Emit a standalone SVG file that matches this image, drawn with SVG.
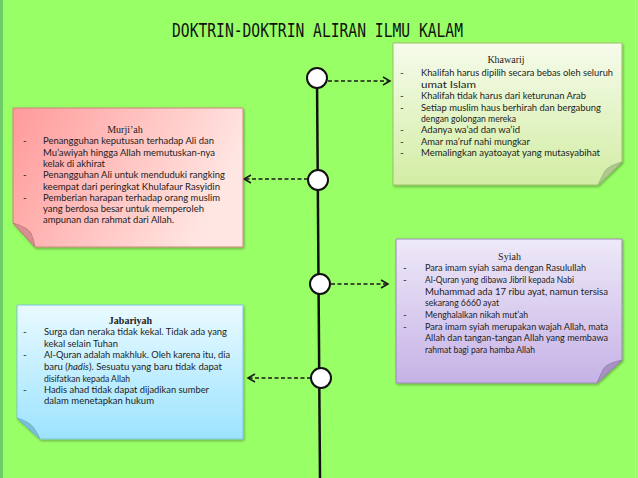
<svg xmlns="http://www.w3.org/2000/svg" width="638" height="478" viewBox="0 0 638 478">
<style>
.t{font-family:Lato,"Open Sans","Liberation Sans",sans-serif;font-size:10px;fill:#1c1c1c}
.h{font-family:"Liberation Serif",serif;font-size:10px;fill:#1c1c1c;text-anchor:middle}
.c{fill:#fff;stroke:#111;stroke-width:2}
.a{fill:none;stroke:#1a1a1a;stroke-width:1.5;stroke-dasharray:4 2.5}
</style>
<defs>
<linearGradient id="gK" x1="0" y1="0" x2="0" y2="1"><stop offset="0" stop-color="#F6FBEB"/><stop offset="1" stop-color="#D2EDA4"/></linearGradient>
<linearGradient id="gM" x1="0" y1="0" x2="1" y2="0.3"><stop offset="0" stop-color="#FF9A9A"/><stop offset="1" stop-color="#FFE6E2"/></linearGradient>
<linearGradient id="gS" x1="0" y1="0" x2="0" y2="1"><stop offset="0" stop-color="#EEE9F8"/><stop offset="1" stop-color="#C6B2E6"/></linearGradient>
<linearGradient id="gJ" x1="0" y1="0" x2="0" y2="1"><stop offset="0" stop-color="#E9FAFF"/><stop offset="1" stop-color="#9CE3FF"/></linearGradient>
<filter id="sh" x="-5%" y="-5%" width="112%" height="115%"><feDropShadow dx="1" dy="1.5" stdDeviation="1" flood-color="#000" flood-opacity="0.3"/></filter>
<marker id="ah" markerWidth="10" markerHeight="10" refX="8" refY="5" orient="auto" markerUnits="userSpaceOnUse"><path d="M1,1 L8,5 L1,9" fill="none" stroke="#1a1a1a" stroke-width="1.5"/></marker>
</defs>
<rect width="638" height="478" fill="#99FF66"/>
<rect x="0" y="0" width="3" height="478" fill="#6FCB66"/>
<line x1="635.5" y1="0" x2="635.5" y2="478" stroke="#B8FF90" stroke-width="1"/>
<text x="172" y="37" textLength="291" lengthAdjust="spacingAndGlyphs" style="font-family:'DejaVu Sans Mono','Liberation Mono',monospace;font-size:20px;fill:#111">DOKTRIN-DOKTRIN ALIRAN ILMU KALAM</text>

<g id="connectors">
<path d="M317,78 L320,478" stroke="#111" stroke-width="2.5" fill="none"/>
<line class="a" x1="328" y1="81" x2="390" y2="81" marker-end="url(#ah)"/>
<line class="a" x1="308" y1="179" x2="244" y2="179" marker-end="url(#ah)"/>
<line class="a" x1="331" y1="284" x2="388" y2="284" marker-end="url(#ah)"/>
<line class="a" x1="311" y1="378" x2="248" y2="378" marker-end="url(#ah)"/>
</g>
<g id="dots">
<circle class="c" cx="317" cy="78" r="10"/>
<circle class="c" cx="318" cy="180" r="10"/>
<circle class="c" cx="320" cy="284" r="10"/>
<circle class="c" cx="321" cy="378" r="10"/>
</g>

<g id="khawarij">
<path d="M393,43 H622 V162 L598,185 H393 Z" fill="url(#gK)" stroke="#9CC06A" stroke-width="1" filter="url(#sh)"/>
<path d="M622,162 Q608,166 605,171 Q601,178 598,185 Z" fill="#AFC890" stroke="#94AE74" stroke-width="0.7"/>
<text class="h" x="506" y="63">Khawarij</text>
<g class="t">
<text x="400" y="76">-</text><text x="421" y="76" textLength="192" lengthAdjust="spacingAndGlyphs">Khalifah harus dipilih secara bebas oleh seluruh</text>
<text x="421" y="87.5" textLength="55" lengthAdjust="spacingAndGlyphs">umat Islam</text>
<text x="400" y="98.5">-</text><text x="421" y="98.5" textLength="165" lengthAdjust="spacingAndGlyphs">Khalifah tidak harus dari keturunan Arab</text>
<text x="400" y="110.5">-</text><text x="421" y="110.5" textLength="180" lengthAdjust="spacingAndGlyphs">Setiap muslim haus berhirah dan bergabung</text>
<text x="421" y="121.5" textLength="95" lengthAdjust="spacingAndGlyphs">dengan golongan mereka</text>
<text x="400" y="133">-</text><text x="421" y="133" textLength="99" lengthAdjust="spacingAndGlyphs">Adanya wa’ad dan wa’id</text>
<text x="400" y="144.5">-</text><text x="421" y="144.5" textLength="109" lengthAdjust="spacingAndGlyphs">Amar ma’ruf nahi mungkar</text>
<text x="400" y="156">-</text><text x="421" y="156" textLength="179" lengthAdjust="spacingAndGlyphs">Memalingkan ayatoayat yang mutasyabihat</text>
</g>
</g>

<g id="murjiah">
<path d="M13,108 H243 V247 H35 L13,223 Z" fill="url(#gM)" stroke="#C98878" stroke-width="1" filter="url(#sh)"/>
<path d="M13,223 Q27,227 31,233 Q34,240 35,247 Z" fill="#D98F92" stroke="#B87474" stroke-width="0.7"/>
<text class="h" x="125" y="132.5">Murji’ah</text>
<g class="t">
<text x="23" y="144">-</text><text x="43" y="144" textLength="171" lengthAdjust="spacingAndGlyphs">Penangguhan keputusan terhadap Ali dan</text>
<text x="43" y="155.5" textLength="172" lengthAdjust="spacingAndGlyphs">Mu’awiyah hingga Allah memutuskan-nya</text>
<text x="43" y="166.5" textLength="62" lengthAdjust="spacingAndGlyphs">kelak di akhirat</text>
<text x="23" y="178">-</text><text x="43" y="178" textLength="182" lengthAdjust="spacingAndGlyphs">Penangguhan Ali untuk menduduki rangking</text>
<text x="43" y="189.5" textLength="177" lengthAdjust="spacingAndGlyphs">keempat dari peringkat Khulafaur Rasyidin</text>
<text x="23" y="200.5">-</text><text x="43" y="200.5" textLength="177" lengthAdjust="spacingAndGlyphs">Pemberian harapan terhadap orang muslim</text>
<text x="43" y="211.5" textLength="161" lengthAdjust="spacingAndGlyphs">yang berdosa besar untuk memperoleh</text>
<text x="43" y="223" textLength="131" lengthAdjust="spacingAndGlyphs">ampunan dan rahmat dari Allah.</text>
</g>
</g>

<g id="syiah">
<path d="M396,239 H622 V360 L597,383 H396 Z" fill="url(#gS)" stroke="#9A8CB0" stroke-width="1" filter="url(#sh)"/>
<path d="M622,360 Q608,363 604,368 Q600,375 597,383 Z" fill="#A892C4" stroke="#8C78A8" stroke-width="0.7"/>
<text class="h" x="509.5" y="260">Syiah</text>
<g class="t">
<text x="403" y="271">-</text><text x="425" y="271" textLength="161" lengthAdjust="spacingAndGlyphs">Para imam syiah sama dengan Rasulullah</text>
<text x="403" y="282.5">-</text><text x="425" y="282.5" textLength="149" lengthAdjust="spacingAndGlyphs">Al-Quran yang dibawa Jibril kepada Nabi</text>
<text x="425" y="294.5" textLength="183" lengthAdjust="spacingAndGlyphs">Muhammad ada 17 ribu ayat, namun tersisa</text>
<text x="425" y="306" textLength="74" lengthAdjust="spacingAndGlyphs">sekarang 6660 ayat</text>
<text x="403" y="317.5">-</text><text x="425" y="317.5" textLength="103" lengthAdjust="spacingAndGlyphs">Menghalalkan nikah mut’ah</text>
<text x="403" y="329.5">-</text><text x="425" y="329.5" textLength="183" lengthAdjust="spacingAndGlyphs">Para imam syiah merupakan wajah Allah, mata</text>
<text x="425" y="341" textLength="183" lengthAdjust="spacingAndGlyphs">Allah dan tangan-tangan Allah yang membawa</text>
<text x="425" y="352.5" textLength="110" lengthAdjust="spacingAndGlyphs">rahmat bagi para hamba Allah</text>
</g>
</g>

<g id="jabariyah">
<path d="M17,305 H243 V439 H40 L17,418 Z" fill="url(#gJ)" stroke="#7CC6DE" stroke-width="1" filter="url(#sh)"/>
<path d="M17,418 Q30,422 34,428 Q38,434 40,439 Z" fill="#7CC0D8" stroke="#68A8C0" stroke-width="0.7"/>
<text class="h" x="130.5" y="323.5" font-weight="bold">Jabariyah</text>
<g class="t">
<text x="23" y="335">-</text><text x="44" y="335" textLength="183" lengthAdjust="spacingAndGlyphs">Surga dan neraka tidak kekal. Tidak ada yang</text>
<text x="44" y="346.5" textLength="74" lengthAdjust="spacingAndGlyphs">kekal selain Tuhan</text>
<text x="23" y="357.5">-</text><text x="44" y="357.5" textLength="186" lengthAdjust="spacingAndGlyphs">Al-Quran adalah makhluk. Oleh karena itu, dia</text>
<text x="44" y="369.5" textLength="178" lengthAdjust="spacingAndGlyphs">baru (<tspan font-style="italic">hadis</tspan>). Sesuatu yang baru tidak dapat</text>
<text x="44" y="381.5" textLength="86" lengthAdjust="spacingAndGlyphs">disifatkan kepada Allah</text>
<text x="23" y="392.5">-</text><text x="44" y="392.5" textLength="165" lengthAdjust="spacingAndGlyphs">Hadis ahad tidak dapat dijadikan sumber</text>
<text x="44" y="404" textLength="110" lengthAdjust="spacingAndGlyphs">dalam menetapkan hukum</text>
</g>
</g>
</svg>
